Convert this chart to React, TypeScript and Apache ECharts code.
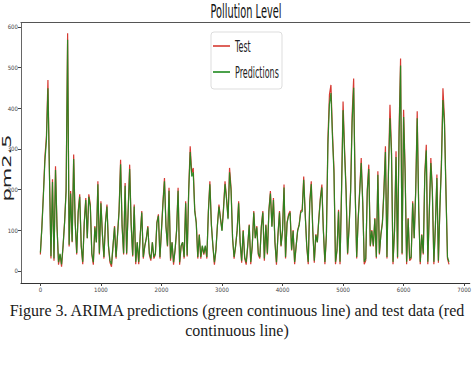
import React, { useEffect, useRef } from "react";
import * as echarts from "echarts";

const STEP = 25;

const testValues = [
  40, 110, 190, 280, 330, 469, 240, 30, 225, 25,
  257, 110, 15, 40, 10, 60, 120, 200, 584, 60,
  196, 70, 286, 120, 40, 147, 188, 60, 16, 120,
  179, 80, 188, 163, 40, 15, 110, 70, 220, 40,
  171, 90, 30, 120, 163, 60, 20, 10, 60, 110,
  30, 90, 150, 273, 111, 40, 216, 40, 150, 261,
  114, 35, 163, 16, 70, 16, 90, 147, 30, 60,
  80, 110, 40, 25, 70, 30, 40, 120, 139, 30,
  100, 170, 228, 110, 60, 204, 25, 70, 15, 50,
  100, 204, 15, 60, 70, 30, 171, 35, 200, 306,
  240, 253, 150, 120, 30, 90, 30, 60, 40, 60,
  30, 147, 220, 114, 60, 15, 50, 114, 163, 130,
  100, 155, 220, 180, 130, 253, 204, 80, 30, 60,
  100, 171, 70, 20, 100, 30, 15, 60, 114, 16,
  60, 147, 80, 110, 40, 30, 110, 147, 25, 114,
  40, 150, 196, 110, 179, 70, 15, 90, 147, 60,
  100, 212, 30, 120, 139, 147, 50, 100, 16, 60,
  100, 114, 147, 150, 232, 140, 60, 16, 171, 220,
  100, 20, 90, 70, 130, 180, 212, 100, 16, 90,
  326, 433, 457, 340, 250, 16, 50, 150, 16, 200,
  416, 300, 200, 40, 110, 200, 384, 473, 200, 30,
  130, 200, 277, 170, 16, 25, 200, 261, 60, 100,
  60, 130, 30, 245, 40, 90, 120, 200, 306, 30,
  250, 408, 300, 16, 100, 294, 30, 343, 522, 40,
  396, 250, 16, 130, 25, 30, 171, 80, 200, 392,
  150, 16, 90, 40, 240, 310, 16, 150, 277, 200,
  16, 110, 237, 20, 160, 269, 449, 375, 196, 30, 16,
];

const predictionValues = [
  45, 105, 185, 270, 320, 449, 235, 36, 218, 30,
  248, 108, 21, 42, 16, 62, 118, 195, 568, 64,
  190, 72, 275, 118, 44, 143, 182, 62, 22, 117,
  174, 80, 182, 158, 43, 21, 107, 70, 213, 43,
  166, 88, 34, 117, 158, 62, 25, 16, 62, 107,
  34, 88, 146, 262, 110, 43, 209, 43, 146, 250,
  112, 38, 158, 22, 70, 22, 88, 143, 34, 62,
  80, 107, 43, 30, 70, 34, 43, 117, 135, 34,
  98, 165, 220, 108, 62, 197, 30, 70, 21, 52,
  98, 197, 21, 62, 70, 34, 166, 38, 194, 292,
  232, 242, 146, 117, 34, 88, 34, 62, 43, 62,
  34, 143, 213, 112, 62, 21, 52, 112, 158, 127,
  98, 150, 213, 175, 127, 242, 197, 80, 34, 62,
  98, 166, 70, 25, 98, 34, 21, 62, 112, 22,
  62, 143, 80, 107, 43, 34, 107, 143, 30, 112,
  43, 146, 190, 108, 174, 70, 21, 88, 143, 62,
  98, 205, 34, 117, 135, 143, 52, 98, 22, 62,
  98, 112, 143, 146, 224, 137, 62, 22, 166, 213,
  98, 25, 88, 70, 127, 175, 205, 98, 22, 88,
  312, 410, 437, 328, 240, 22, 52, 146, 22, 194,
  395, 288, 194, 43, 108, 194, 365, 450, 194, 34,
  127, 194, 265, 165, 22, 30, 194, 250, 62, 98,
  62, 127, 34, 236, 43, 88, 117, 194, 292, 34,
  240, 375, 288, 22, 98, 280, 34, 328, 505, 43,
  378, 240, 22, 127, 30, 34, 166, 80, 194, 375,
  146, 22, 88, 43, 232, 296, 22, 146, 265, 194,
  22, 108, 228, 25, 155, 258, 420, 360, 190, 34, 22,
];

const xTicks = [0, 1000, 2000, 3000, 4000, 5000, 6000, 7000];
const yTicks = [0, 100, 200, 300, 400, 500, 600];

const TITLE = "Pollution Level";
const Y_NAME = "pm2.5";
const SERIES_NAMES = ["Test", "Predictions"];
const CAPTION =
  "Figure 3. ARIMA predictions (green continuous line) and test data (red\ncontinuous line)";

const RED = "#d63a32";
const GREEN = "#1e8a1e";
const TICK_FONT = "'Liberation Sans Narrow', 'DejaVu Sans Condensed', 'Liberation Sans', sans-serif";

export default function App() {
  const ref = useRef<HTMLDivElement>(null);
  useEffect(() => {
    const chart = echarts.init(ref.current!, null, { renderer: "svg" });
    const toPairs = (arr: number[]) => arr.map((v, i) => [i * STEP, v]);
    const plain = (v: number) => String(v);
    chart.setOption({
      animation: false,
      backgroundColor: "#ffffff",
      grid: { left: 21, right: 0, top: 22.7, bottom: 82, containLabel: false },
      xAxis: [
        {
          type: "value",
          min: -320,
          max: 7092,
          position: "bottom",
          splitLine: { show: false },
          axisLine: { show: true, onZero: false, lineStyle: { color: "#333", width: 1.2 } },
          axisTick: { show: true, length: 3, customValues: xTicks, lineStyle: { color: "#444" } },
          axisLabel: {
            customValues: xTicks,
            formatter: plain,
            fontSize: 6,
            color: "#444",
            margin: 3,
            fontFamily: TICK_FONT,
          },
        },
        {
          type: "value",
          min: -320,
          max: 7092,
          position: "top",
          splitLine: { show: false },
          axisLine: { show: true, onZero: false, lineStyle: { color: "#555", width: 1.2 } },
          axisTick: { show: false },
          axisLabel: { show: false },
        },
      ],
      yAxis: {
        type: "value",
        min: -30,
        max: 610,
        splitLine: { show: false },
        axisLine: { show: true, onZero: false, lineStyle: { color: "#666", width: 1 } },
        axisTick: { show: true, length: 3, customValues: yTicks, lineStyle: { color: "#444" } },
        axisLabel: {
          customValues: yTicks,
          formatter: plain,
          fontSize: 6,
          color: "#444",
          margin: 3,
          fontFamily: TICK_FONT,
        },
      },
      series: [
        {
          name: SERIES_NAMES[0],
          type: "line",
          xAxisIndex: 0,
          data: toPairs(testValues),
          showSymbol: false,
          silent: true,
          lineStyle: { color: RED, width: 1.2 },
        },
        {
          name: SERIES_NAMES[1],
          type: "line",
          xAxisIndex: 0,
          data: toPairs(predictionValues),
          showSymbol: false,
          silent: true,
          lineStyle: { color: GREEN, width: 1.2, opacity: 0.9 },
        },
      ],
      graphic: [
        {
          type: "text",
          x: 246,
          y: 11,
          scaleX: 0.49,
          style: {
            text: TITLE,
            fontSize: 20,
            fontFamily: "'DejaVu Sans', sans-serif",
            fill: "#111",
            textAlign: "center",
            textVerticalAlign: "middle",
          },
        },
        {
          type: "text",
          x: 6.5,
          y: 168,
          rotation: Math.PI / 2,
          scaleY: 0.55,
          style: {
            text: Y_NAME,
            fontSize: 21,
            fontFamily: "'DejaVu Sans', sans-serif",
            fill: "#222",
            textAlign: "center",
            textVerticalAlign: "middle",
          },
        },
        {
          type: "rect",
          z: 100,
          shape: { x: 211, y: 32, width: 71, height: 57, r: 3 },
          style: { fill: "#ffffff", stroke: "#dddddd", lineWidth: 1 },
        },
        {
          type: "line",
          z: 101,
          shape: { x1: 213, y1: 46, x2: 230, y2: 46 },
          style: { stroke: RED, lineWidth: 1.6 },
        },
        {
          type: "line",
          z: 101,
          shape: { x1: 213, y1: 72, x2: 230, y2: 72 },
          style: { stroke: GREEN, lineWidth: 1.6 },
        },
        {
          type: "text",
          z: 101,
          x: 235,
          y: 46,
          scaleX: 0.5,
          style: {
            text: SERIES_NAMES[0],
            fontSize: 16,
            fontFamily: "'DejaVu Sans', sans-serif",
            fill: "#222",
            textAlign: "left",
            textVerticalAlign: "middle",
          },
        },
        {
          type: "text",
          z: 101,
          x: 235,
          y: 72,
          scaleX: 0.5,
          style: {
            text: SERIES_NAMES[1],
            fontSize: 16,
            fontFamily: "'DejaVu Sans', sans-serif",
            fill: "#222",
            textAlign: "left",
            textVerticalAlign: "middle",
          },
        },
        {
          type: "text",
          x: 237,
          y: 320,
          style: {
            text: CAPTION,
            fontSize: 16,
            lineHeight: 20,
            fontFamily: "'Liberation Serif', 'Times New Roman', serif",
            fill: "#1a1a1a",
            textAlign: "center",
            textVerticalAlign: "middle",
          },
        },
      ],
    });
    return () => chart.dispose();
  }, []);
  return (
    <div
      ref={ref}
      style={{ position: "fixed", left: 0, top: 0, width: 474, height: 365 }}
    />
  );
}
